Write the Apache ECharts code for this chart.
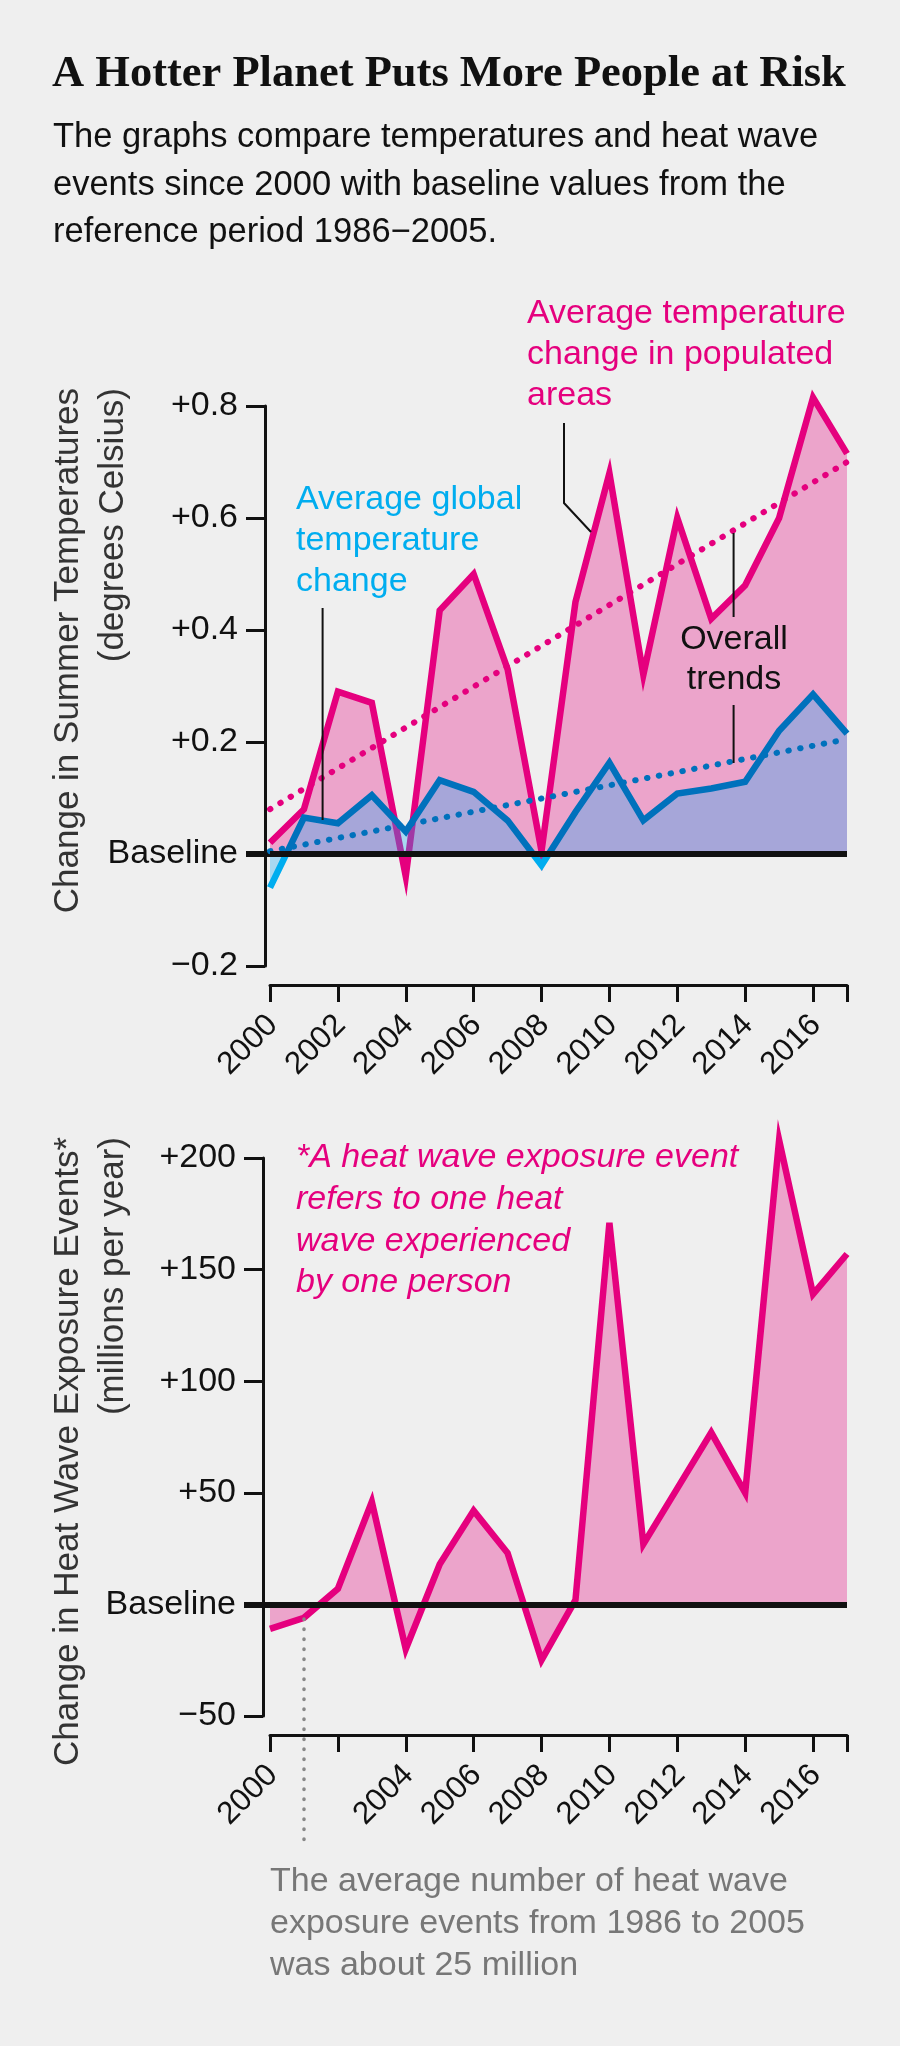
<!DOCTYPE html>
<html>
<head>
<meta charset="utf-8">
<title>A Hotter Planet Puts More People at Risk</title>
<script src="https://cdn.jsdelivr.net/npm/echarts@6/dist/echarts.min.js"></script>
<style>
  html, body { margin: 0; padding: 0; background: #efefef; }
  #chart { width: 900px; height: 2046px; }
</style>
</head>
<body>
<div id="chart"></div>
<script>
var years = [2000, 2001, 2002, 2003, 2004, 2005, 2006, 2007, 2008, 2009,
             2010, 2011, 2012, 2013, 2014, 2015, 2016, 2017];

// change in summer temperature, degrees C vs 1986-2005
var popTemp = [0.02, 0.08, 0.29, 0.27, -0.04, 0.435, 0.50, 0.33, 0.005, 0.45,
               0.68, 0.32, 0.60, 0.42, 0.48, 0.60, 0.815, 0.715];
var globalTemp = [-0.06, 0.065, 0.055, 0.105, 0.04, 0.132, 0.111, 0.06, -0.02, 0.075,
                  0.163, 0.06, 0.108, 0.117, 0.129, 0.22, 0.285, 0.215];
// overall trend, value at first and last year
var popTrend = [0.08, 0.70];
var globalTrend = [0.005, 0.205];

// change in heat wave exposure events, millions per year
var heatEvents = [-11, -6, 7, 46, -20, 18, 42, 23, -25, 2,
                  171, 27, 52, 77, 50, 208, 139, 157];

var tempTicks = [-0.2, 0.2, 0.4, 0.6, 0.8];
var heatTicks = [-50, 50, 100, 150, 200];
var baselineValue = [0];
var topYearLabels = [2000, 2002, 2004, 2006, 2008, 2010, 2012, 2014, 2016];
var bottomYearLabels = [2000, 2004, 2006, 2008, 2010, 2012, 2014, 2016];

var MAGENTA = '#e5007e';
var PINK_FILL = '#eca4cb';
var CYAN = '#00adef';
var DARK_BLUE = '#0071bc';
var INK = '#111';
var SANS = '"Liberation Sans", Arial, sans-serif';

function pairs(vals) {
    return years.map(function (y, i) { return [y, vals[i]]; });
}
function trendPairs(t) {
    return [[years[0], t[0]], [years[years.length - 1], t[1]]];
}
function signed(v, digits) {
    if (Math.abs(v) < 1e-9) return 'Baseline';
    var s = Math.abs(v).toFixed(digits);
    return v > 0 ? '+' + s : '\u2212' + s;
}

var chart = echarts.init(document.getElementById('chart'), null, { renderer: 'canvas' });

function xAxisFor(gridIndex, labels) {
    return {
        gridIndex: gridIndex,
        type: 'value',
        min: 2000,
        max: 2017,
        interval: 2,
        position: 'bottom',
        offset: 19,
        axisLine: { onZero: false, lineStyle: { color: INK, width: 3 } },
        axisTick: { length: 17, lineStyle: { color: INK, width: 3 } },
        axisLabel: {
            rotate: 45,
            margin: 38,
            padding: [8, -4, 0, 0],
            fontSize: 31.5,
            color: INK,
            fontFamily: SANS,
            formatter: function (v) { return labels.indexOf(v) >= 0 ? String(v) : ''; }
        },
        splitLine: { show: false }
    };
}

function yAxisMain(gridIndex, min, max, interval, ticks, digits, offset) {
    return {
        gridIndex: gridIndex,
        type: 'value',
        min: min,
        max: max,
        interval: interval,
        position: 'left',
        offset: offset,
        axisLine: { show: true, onZero: false, lineStyle: { color: INK, width: 3 } },
        axisTick: { show: true, length: 19, customValues: ticks, lineStyle: { color: INK, width: 3 } },
        axisLabel: {
            margin: 27,
            fontSize: 34,
            color: INK,
            fontFamily: SANS,
            formatter: function (v) { return signed(v, digits); }
        },
        splitLine: { show: false }
    };
}

function yAxisBase(gridIndex, min, max, interval, len) {
    return {
        gridIndex: gridIndex,
        type: 'value',
        min: min,
        max: max,
        interval: interval,
        position: 'left',
        offset: 0,
        axisLine: { show: false },
        axisTick: { show: true, length: len, customValues: baselineValue, lineStyle: { color: INK, width: 6 } },
        axisLabel: { show: false },
        splitLine: { show: false }
    };
}

function baseLine() {
    return {
        silent: true,
        symbol: ['none', 'none'],
        z: 10,
        label: { show: false },
        lineStyle: { color: INK, width: 6, type: 'solid' },
        data: [{ yAxis: baselineValue[0] }]
    };
}

function textEl(x, y, text, style, rotation) {
    var s = {
        text: text,
        fontFamily: SANS,
        fontSize: 34,
        fill: INK,
        verticalAlign: 'top'
    };
    for (var k in style) s[k] = style[k];
    return { type: 'text', x: x, y: y, z: 100, rotation: rotation || 0, style: s };
}

var option = {
    animation: false,
    backgroundColor: '#efefef',
    textStyle: { fontFamily: SANS },
    grid: [
        { left: 270, top: 406, width: 577, height: 560, outerBoundsMode: 'none' },
        { left: 270, top: 1158, width: 577, height: 558, outerBoundsMode: 'none' }
    ],
    xAxis: [xAxisFor(0, topYearLabels), xAxisFor(1, bottomYearLabels)],
    yAxis: [
        yAxisMain(0, -0.2, 0.8, 0.2, tempTicks, 1, 5),
        yAxisBase(0, -0.2, 0.8, 0.2, 24),
        yAxisMain(1, -50, 200, 50, heatTicks, 0, 7),
        yAxisBase(1, -50, 200, 50, 26)
    ],
    visualMap: [{
        type: 'piecewise',
        show: false,
        seriesIndex: 3,
        dimension: 1,
        pieces: [
            { gte: -1, lt: 0, color: CYAN },
            { gte: 0, lte: 2, color: DARK_BLUE }
        ]
    }],
    series: [
        {   // populated-area fill
            type: 'line', xAxisIndex: 0, yAxisIndex: 0, z: 1,
            data: pairs(popTemp), symbol: 'none', clip: false, silent: true,
            lineStyle: { width: 0 },
            areaStyle: { color: PINK_FILL, opacity: 1 }
        },
        {   // populated-area line
            type: 'line', xAxisIndex: 0, yAxisIndex: 0, z: 2,
            data: pairs(popTemp), symbol: 'none', clip: false, silent: true,
            lineStyle: { color: MAGENTA, width: 6.5, join: 'miter' }
        },
        {   // global fill
            type: 'line', xAxisIndex: 0, yAxisIndex: 0, z: 3,
            data: pairs(globalTemp), symbol: 'none', clip: false, silent: true,
            lineStyle: { width: 0 },
            areaStyle: { color: 'rgba(24,170,245,0.33)', opacity: 1 }
        },
        {   // global line
            type: 'line', xAxisIndex: 0, yAxisIndex: 0, z: 4,
            data: pairs(globalTemp), symbol: 'none', clip: false, silent: true,
            lineStyle: { width: 6.5, join: 'miter' }
        },
        {   // populated trend
            type: 'line', xAxisIndex: 0, yAxisIndex: 0, z: 5,
            data: trendPairs(popTrend), symbol: 'none', clip: false, silent: true,
            lineStyle: { color: MAGENTA, width: 6, type: [0.5, 11.5], cap: 'round' }
        },
        {   // global trend
            type: 'line', xAxisIndex: 0, yAxisIndex: 0, z: 5,
            data: trendPairs(globalTrend), symbol: 'none', clip: false, silent: true,
            lineStyle: { color: DARK_BLUE, width: 6, type: [0.5, 11.5], cap: 'round' },
            markLine: baseLine()
        },
        {   // heat wave exposure
            type: 'line', xAxisIndex: 1, yAxisIndex: 2, z: 2,
            data: pairs(heatEvents), symbol: 'none', clip: false, silent: true,
            lineStyle: { color: MAGENTA, width: 6.5, join: 'miter' },
            areaStyle: { color: PINK_FILL, opacity: 1 },
            markLine: baseLine()
        }
    ],
    graphic: [
        textEl(52, 74, 'A Hotter Planet Puts More People at Risk', {
            fontFamily: '"Liberation Serif", "Times New Roman", serif',
            fontWeight: 'bold', fontSize: 44.5, verticalAlign: 'middle'
        }),
        textEl(53, 114, 'The graphs compare temperatures and heat wave\nevents since 2000 with baseline values from the\nreference period 1986\u22122005.', {
            lineHeight: 47.5, fontSize: 34.5
        }),
        textEl(90.5, 388, 'Change in Summer Temperatures\n(degrees Celsius)', {
            align: 'right', verticalAlign: 'middle', lineHeight: 45, fill: '#333', fontSize: 35
        }, Math.PI / 2),
        textEl(90.5, 1137, 'Change in Heat Wave Exposure Events*\n(millions per year)', {
            align: 'right', verticalAlign: 'middle', lineHeight: 45, fill: '#333', fontSize: 35
        }, Math.PI / 2),
        textEl(527, 293.5, 'Average temperature\nchange in populated\nareas', {
            lineHeight: 41, fill: MAGENTA
        }),
        textEl(296, 479, 'Average global\ntemperature\nchange', {
            lineHeight: 41, fill: CYAN
        }),
        textEl(734, 620, 'Overall\ntrends', {
            lineHeight: 40, align: 'center'
        }),
        textEl(296, 1137, '*A heat wave exposure event\nrefers to one heat\nwave experienced\nby one person', {
            lineHeight: 41.7, fill: MAGENTA, fontStyle: 'italic'
        }),
        textEl(270, 1861, 'The average number of heat wave\nexposure events from 1986 to 2005\nwas about 25 million', {
            lineHeight: 41.9, fill: '#777'
        }),
        // leader lines
        { type: 'polyline', z: 100, shape: { points: [[564, 423], [564, 503], [591, 532]] },
          style: { stroke: INK, lineWidth: 2, fill: null } },
        { type: 'line', z: 100, shape: { x1: 322.6, y1: 608, x2: 322.6, y2: 820 },
          style: { stroke: INK, lineWidth: 2 } },
        { type: 'line', z: 100, shape: { x1: 733.6, y1: 533, x2: 733.6, y2: 617 },
          style: { stroke: INK, lineWidth: 2 } },
        { type: 'line', z: 100, shape: { x1: 733.6, y1: 705, x2: 733.6, y2: 763 },
          style: { stroke: INK, lineWidth: 2 } },
        { type: 'line', z: 100, shape: { x1: 304, y1: 1619, x2: 304, y2: 1848 },
          style: { stroke: '#888', lineWidth: 3.5, lineDash: [0.5, 9.5], lineCap: 'round' } }
    ]
};

chart.setOption(option);
</script>
</body>
</html>
